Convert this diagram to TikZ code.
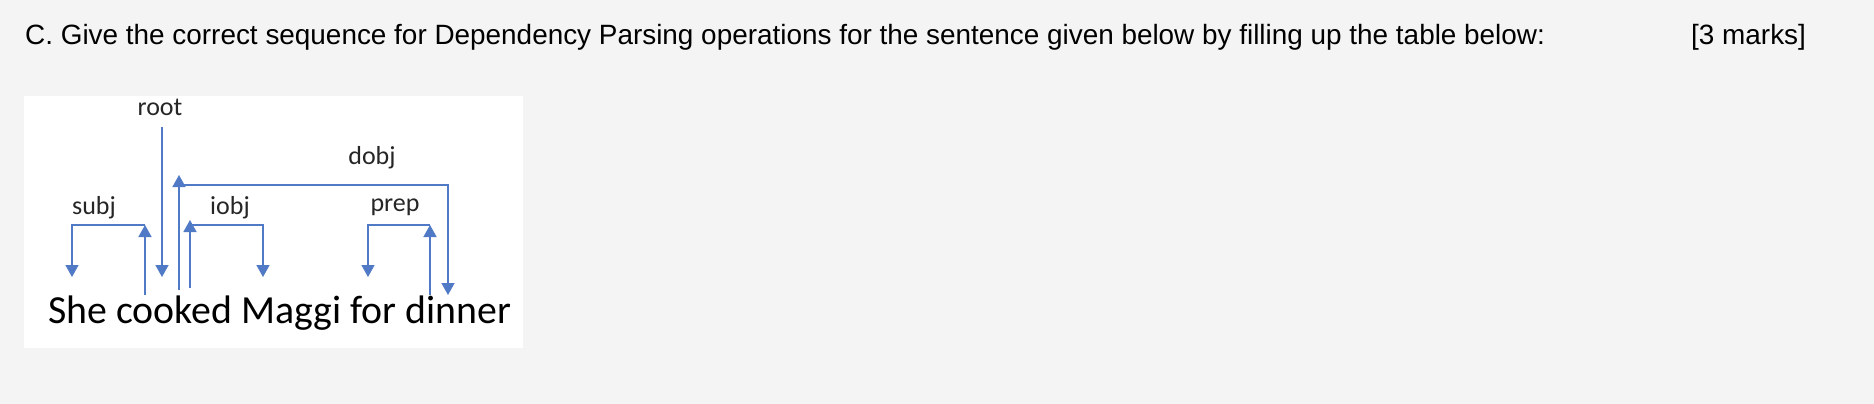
\documentclass[tikz,border=0pt]{standalone}
\usepackage{fontspec}
\setmainfont{Liberation Sans}
\newfontfamily\calib{Carlito}
\usetikzlibrary{arrows.meta}
\definecolor{pagebg}{HTML}{F4F4F4}
\definecolor{arcblue}{HTML}{5079C6}
\tikzset{
  arc/.style={draw=arcblue, line width=1.6pt},
  arctip/.style={arc, -{Triangle[width=13pt,length=12pt]}},
  lab/.style={font=\calib\fontsize{26}{28}\selectfont, inner sep=0pt, text=black!85},
  heading/.style={font=\fontsize{27.9}{30}\selectfont, inner sep=0pt, anchor=base west},
}
\begin{document}
\begin{tikzpicture}[x=1pt,y=-1pt]
\useasboundingbox (0,0) rectangle (1874,404);
\fill[pagebg] (0,0) rectangle (1874,404);
\fill[white] (24,96) rectangle (523,348);
\node[heading] (q) at (25,45) {C. Give the correct sequence for Dependency Parsing operations for the sentence given below by filling up the table below:};
\node[heading] (marks) at (1691,45) {[3 marks]};
\node[font=\calib\fontsize{39.8}{42}\selectfont, inner sep=0pt, anchor=base west] (sent) at (48,323) {She cooked Maggi for dinner};
% labels
\node[lab] (lroot) at (160,107) {root};
\node[lab] (ldobj) at (372,158) {dobj};
\node[lab] (lsubj) at (94,208) {subj};
\node[lab] (liobj) at (230,208) {iobj};
\node[lab] (lprep) at (395,207) {prep};
% coordinates
\coordinate (rootTop) at (162,127);
\coordinate (rootEnd) at (162,277);
\coordinate (subjFrom) at (145,295);
\coordinate (subjCorner) at (145,225);
\coordinate (subjL) at (72,225);
\coordinate (subjEnd) at (72,277);
\coordinate (dobjFrom) at (179,290);
\coordinate (dobjTip) at (179,175);
\coordinate (dobjL) at (179,185);
\coordinate (dobjR) at (448,185);
\coordinate (dobjEnd) at (448,295);
\coordinate (iobjFrom) at (190,288);
\coordinate (iobjTip) at (190,220);
\coordinate (iobjL) at (190,225);
\coordinate (iobjR) at (263,225);
\coordinate (iobjEnd) at (263,277);
\coordinate (prepFrom) at (430,295);
\coordinate (prepCorner) at (430,225);
\coordinate (prepL) at (368,225);
\coordinate (prepEnd) at (368,277);
% arcs
\draw[arctip] (rootTop) -- (rootEnd);
\draw[arctip] (subjFrom) -- (subjCorner);
\draw[arctip] (subjCorner) -- (subjL) -- (subjEnd);
\draw[arctip] (dobjFrom) -- (dobjTip);
\draw[arctip] (dobjL) -- (dobjR) -- (dobjEnd);
\draw[arctip] (iobjFrom) -- (iobjTip);
\draw[arctip] (iobjL) -- (iobjR) -- (iobjEnd);
\draw[arctip] (prepFrom) -- (prepCorner);
\draw[arctip] (prepCorner) -- (prepL) -- (prepEnd);
\end{tikzpicture}
\end{document}
